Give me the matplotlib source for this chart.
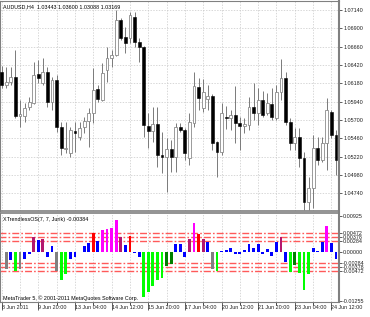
import numpy as np
import matplotlib.pyplot as plt

plt.rcParams['font.family'] = ['Liberation Sans', 'DejaVu Sans']

# AUDUSD H4 candles
opens = [1.06329, 1.06158, 1.06197, 1.06263, 1.05753, 1.05753, 1.05870, 1.05922, 1.06302, 1.06184,
         1.06329, 1.05935, 1.06224, 1.05609, 1.05327, 1.05268, 1.05557, 1.05478, 1.05609, 1.05687,
         1.05792, 1.06106, 1.05962, 1.06355, 1.06512, 1.06551, 1.07009, 1.06787, 1.06774, 1.07048,
         1.06721, 1.06656, 1.05622, 1.05557, 1.05648, 1.05242, 1.05216, 1.05321, 1.05216, 1.05609,
         1.05570, 1.05203, 1.05661, 1.06132, 1.05857, 1.05975, 1.06014, 1.05412, 1.05281, 1.05739,
         1.05726, 1.05766, 1.05661, 1.05622, 1.05635, 1.05870, 1.05792, 1.05962, 1.05792, 1.05909,
         1.05726, 1.06066, 1.06250, 1.05674, 1.05399, 1.05478, 1.05203, 1.04627, 1.04810, 1.05334,
         1.05177, 1.05399, 1.05805, 1.05504]
highs = [1.06407, 1.06394, 1.06394, 1.06616, 1.05962, 1.05922, 1.06001, 1.06459, 1.06486, 1.06512,
         1.06394, 1.06263, 1.06289, 1.05674, 1.05674, 1.05609, 1.05674, 1.05674, 1.05739, 1.05857,
         1.06381, 1.06158, 1.06446, 1.06656, 1.06616, 1.07140, 1.07035, 1.06918, 1.07114, 1.07114,
         1.06774, 1.06669, 1.05792, 1.05870, 1.05870, 1.05543, 1.05465, 1.05438, 1.05661, 1.05661,
         1.05596, 1.05792, 1.06329, 1.06250, 1.06237, 1.06158, 1.06040, 1.05425, 1.05922, 1.05883,
         1.05831, 1.06145, 1.05739, 1.05726, 1.06001, 1.06184, 1.06119, 1.06079, 1.06053, 1.06119,
         1.06158, 1.06499, 1.06329, 1.05726, 1.05596, 1.05596, 1.05281, 1.04954, 1.05504, 1.05478,
         1.05478, 1.05988, 1.05831, 1.05570]
lows = [1.06119, 1.06119, 1.06158, 1.05726, 1.05609, 1.05674, 1.05831, 1.05909, 1.06184, 1.06158,
        1.05870, 1.05831, 1.05543, 1.05242, 1.05268, 1.05216, 1.05281, 1.05438, 1.05530, 1.05347,
        1.05661, 1.05935, 1.05949, 1.06197, 1.06394, 1.06538, 1.06747, 1.06577, 1.06708, 1.06656,
        1.06459, 1.05478, 1.05334, 1.05412, 1.05085, 1.05007, 1.04758, 1.05020, 1.05020, 1.05543,
        1.05177, 1.05112, 1.05609, 1.05831, 1.05805, 1.05831, 1.05308, 1.04954, 1.05242, 1.05583,
        1.05570, 1.05399, 1.05308, 1.05530, 1.05570, 1.05700, 1.05635, 1.05739, 1.05766, 1.05700,
        1.05700, 1.05962, 1.05635, 1.05308, 1.05308, 1.05085, 1.04522, 1.04522, 1.04548, 1.05112,
        1.05151, 1.05046, 1.05465, 1.04981]
closes = [1.06158, 1.06197, 1.06263, 1.05753, 1.05779, 1.05857, 1.05935, 1.06289, 1.06250, 1.06329,
          1.05935, 1.06224, 1.05609, 1.05334, 1.05334, 1.05570, 1.05530, 1.05596, 1.05687, 1.05792,
          1.06093, 1.05975, 1.06315, 1.06512, 1.06551, 1.07009, 1.06774, 1.06708, 1.07075, 1.06721,
          1.06656, 1.05635, 1.05557, 1.05648, 1.05242, 1.05216, 1.05321, 1.05216, 1.05609, 1.05570,
          1.05268, 1.05674, 1.06145, 1.05988, 1.06066, 1.06014, 1.05399, 1.05281, 1.05792, 1.05726,
          1.05766, 1.05661, 1.05622, 1.05648, 1.05870, 1.05792, 1.05962, 1.05766, 1.05922, 1.05739,
          1.06066, 1.06250, 1.05674, 1.05399, 1.05478, 1.05203, 1.04627, 1.04810, 1.05334, 1.05177,
          1.05399, 1.05831, 1.05504, 1.05177]

# XTrendlessOS histogram and its colour index
# 0 blue, 1 magenta, 2 red, 3 purple, 4 gray, 5 lime, 6 dark green
osc = [np.nan, -0.0044, -0.0021, -0.0048, -0.0044, -0.0019, -0.0004, 0.0037, 0.0030, 0.0032,
       -0.0013, 0.0015, -0.0048, -0.0070, -0.0055, -0.0017, -0.0012, -0.0001, 0.0015, 0.0024,
       0.0049, 0.0028, 0.0055, 0.0059, 0.0061, 0.0081, 0.0039, 0.0017, 0.0041, -0.0003,
       -0.0014, -0.0115, -0.0101, -0.0087, -0.0070, -0.0065, -0.0036, -0.0030, 0.0020, 0.0020,
       -0.0014, 0.0032, 0.0073, 0.0045, 0.0032, 0.0026, -0.0042, -0.0048, 0.0002, 0.0004,
       0.0009, -0.0004, -0.0006, 0.0004, 0.0020, 0.0011, 0.0021, -0.0004, 0.0007, -0.0010,
       0.0026, 0.0038, -0.0025, -0.0051, -0.0033, -0.0053, -0.0096, -0.0056, 0.0009, 0.0003,
       0.0026, 0.0066, 0.0023, -0.0018]
osc_color = [0, 4, 0, 5, 4, 0, 0, 3, 0, 3,
             0, 0, 4, 5, 5, 0, 0, 0, 0, 0,
             2, 0, 1, 1, 1, 1, 3, 0, 2, 0,
             0, 5, 5, 5, 5, 5, 6, 6, 0, 0,
             0, 3, 1, 2, 3, 0, 4, 5, 0, 0,
             0, 0, 0, 0, 0, 0, 0, 0, 0, 0,
             0, 3, 0, 5, 6, 5, 5, 5, 0, 0,
             0, 1, 0, 0]
palette = ['#0000ff', '#ff00ff', '#ff0000', '#b4186e', '#808080', '#00ff00', '#008000']

levels = [0.00472, 0.00378, 0.00284, -0.00284, -0.00378, -0.00472]
price_ticks = [1.07140, 1.06900, 1.06660, 1.06420, 1.06180, 1.05940,
               1.05700, 1.05460, 1.05220, 1.04980, 1.04740]
osc_ticks = [0.00925, 0.00472, 0.00378, 0.00284, 0.0, -0.00284, -0.00378, -0.00472, -0.01255]
date_pos = [0, 8, 16, 24, 32, 40, 48, 56, 64, 72]
date_labels = ['8 Jun 2011', '9 Jun 20:00', '13 Jun 04:00', '14 Jun 12:00', '15 Jun 20:00',
               '17 Jun 04:00', '20 Jun 12:00', '21 Jun 20:00', '23 Jun 04:00', '24 Jun 12:00']

n = len(opens)
x = np.arange(n)
o, h, l, c = map(np.array, (opens, highs, lows, closes))
up = c >= o

fig = plt.figure(figsize=(3.7, 3.17), dpi=100)
ax = fig.add_axes([0.0, 0.3344, 0.9162, 0.6625])
ax2 = fig.add_axes([0.0, 0.0473, 0.9162, 0.2808])
fs = 3.9

# --- price panel ---
ax.vlines(x, l, h, color='#7a7a7a', lw=0.7, zorder=2)
body = np.maximum(np.abs(c - o), 0.00003)
ax.bar(x[up], body[up], bottom=o[up], width=0.62, color='white',
       edgecolor='#8a8a8a', lw=0.6, zorder=3)
ax.bar(x[~up], body[~up], bottom=c[~up], width=0.62, color='black',
       edgecolor='black', lw=0.4, zorder=3)
ax.set_xlim(-0.37, 73.65)
ax.set_ylim(1.04509, 1.07258)
ax.yaxis.tick_right()
ax.set_yticks(price_ticks)
ax.set_yticklabels(['%.5f' % v for v in price_ticks], fontsize=fs)
ax.set_xticks(np.arange(0, n, 4))
ax.tick_params(axis='x', length=0, labelbottom=False)
ax.tick_params(axis='y', length=2, width=0.5, pad=1, colors='#202020')
ax.grid(True, color='#c8c8c8', lw=0.5, ls=(0, (2, 2)))
ax.set_axisbelow(True)
ax.text(0.008, 0.985, 'AUDUSD,H4  1.03443 1.03600 1.03088 1.03169', transform=ax.transAxes,
        fontsize=fs, va='top', ha='left')

# --- oscillator panel ---
cols = [palette[k] for k in osc_color]
ax2.bar(x, osc, width=0.62, color=cols, zorder=3)
ax2.hlines(levels, -1, n + 1, colors='#ff5a5a', lw=1.0,
           linestyles=[(0, (5, 1.5, 1.2, 1.5))], zorder=2.5)
ax2.set_xlim(-0.37, 73.65)
ax2.set_ylim(-0.0127, 0.0099)
ax2.yaxis.tick_right()
ax2.set_yticks(osc_ticks)
ax2.set_yticklabels(['%.5f' % v for v in osc_ticks], fontsize=fs)
ax2.tick_params(axis='y', length=2, width=0.5, pad=1, colors='#202020')
ax2.set_xticks(date_pos)
ax2.set_xticklabels(date_labels, fontsize=fs, ha='left')
ax2.set_xticks(np.arange(4, n, 8), minor=True)
ax2.tick_params(axis='x', which='major', length=6, width=0.5, pad=-3.5, colors='#202020')
ax2.tick_params(axis='x', which='minor', length=2, width=0.5)
ax2.grid(True, axis='x', which='both', color='#c8c8c8', lw=0.5, ls=(0, (2, 2)))
ax2.set_axisbelow(True)
ax2.text(0.008, 0.955, 'XTrendlessOS(7, 7, Jurik) -0.00384', transform=ax2.transAxes,
         fontsize=fs, va='top', ha='left')
ax2.text(0.008, 0.015, 'MetaTrader 5, \u00a9 2001-2011 MetaQuotes Software Corp.',
         transform=ax2.transAxes, fontsize=fs, va='bottom', ha='left')

for a in (ax, ax2):
    for s in a.spines.values():
        s.set_color('#808080')
        s.set_linewidth(0.8)
    a.spines['right'].set_linewidth(1.5)
ax.spines['bottom'].set_linewidth(1.2)
ax2.spines['top'].set_linewidth(1.2)

fig.savefig('out.png', dpi=100)
